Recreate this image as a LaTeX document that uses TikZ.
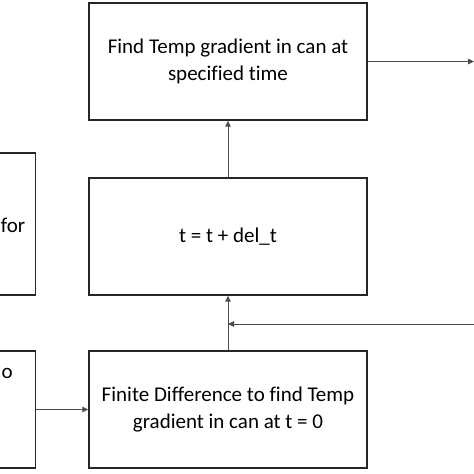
\documentclass[tikz,border=0pt]{standalone}
\usepackage{fontspec}
\setmainfont{Carlito}[Ligatures=CommonOff]
\usetikzlibrary{arrows.meta}

\begin{document}
\begin{tikzpicture}[x=1bp, y=-1bp,
    stage/.style={draw=black!85, line width=1.4bp, align=center, minimum width=278bp, minimum height=117bp, inner sep=0pt, font=\fontsize{21bp}{27bp}\selectfont},
    cut/.style={inner sep=0pt, font=\fontsize{21bp}{27bp}\selectfont},
    flow/.style={draw=black!70, line width=1bp, -{Triangle[length=6bp, width=5.5bp]}}]
  \useasboundingbox (0, 0) rectangle (474, 474);
  \clip (0, 0) rectangle (474, 474);
  \node[stage] (find) at (228, 61.5) {Find Temp gradient in can at\\specified time};
  \node[stage] (step) at (228, 236.5) {t = t + del\_t};
  \node[stage] (init) at (228, 409.5) {Finite Difference to find Temp\\gradient in can at t = 0};
  \node[stage, minimum width=150bp, minimum height=142bp, anchor=east] (setup) at (36, 224) {};
  \node[stage, minimum width=150bp, anchor=east] (input) at (36, 409.5) {};
  \node[cut, anchor=east] (forword) at (25.5, 225) {for};
  \node[cut, anchor=east] (oword) at (13, 373) {o};
  \coordinate (out) at (474, 61.5);
  \coordinate (back) at (474, 324);
  \draw[flow] (step.north) -- (find.south);
  \draw[flow] (init.north) -- (step.south);
  \draw[flow] (find.east) -- (out);
  \draw[flow] (back) -- (back -| init.north);
  \draw[flow] (input.east) -- (init.west);
\end{tikzpicture}
\end{document}
